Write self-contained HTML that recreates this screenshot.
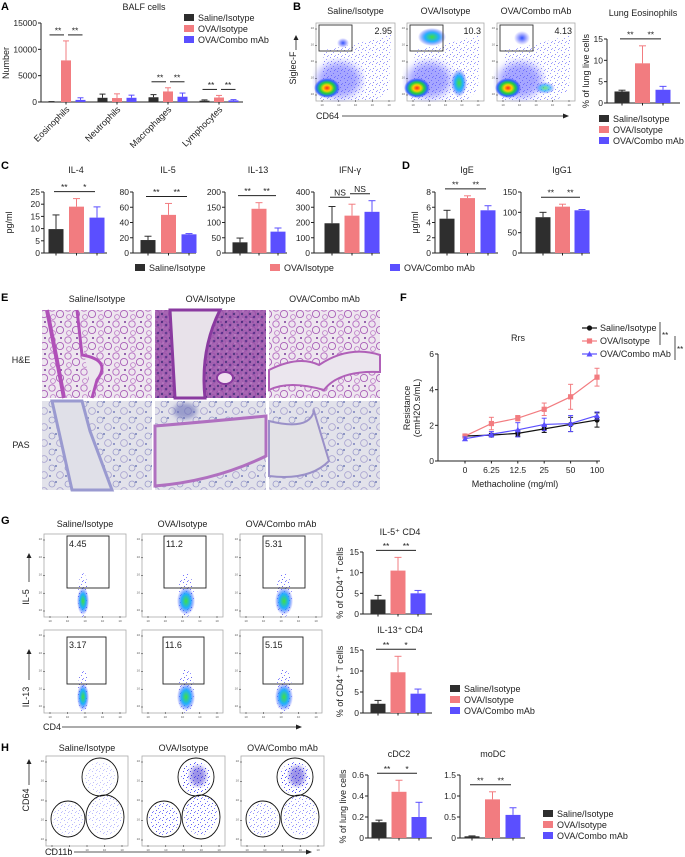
<!DOCTYPE html>
<html><head><meta charset="utf-8"><style>
html,body{margin:0;padding:0;background:#fff}
svg{display:block;font-family:"Liberation Sans",Arial,sans-serif}
</style></head><body>
<svg id="fig" width="685" height="857" viewBox="0 0 685 857" xmlns="http://www.w3.org/2000/svg">
<defs>
<filter id="blur2"><feGaussianBlur stdDeviation="2"/></filter>
<filter id="blur4"><feGaussianBlur stdDeviation="4"/></filter>
<pattern id="speck" width="7" height="7" patternUnits="userSpaceOnUse">
<rect x="1" y="1" width="1" height="1" fill="#3a3aff"/><rect x="4" y="3" width="1" height="1" fill="#5050ff"/><rect x="2" y="5" width="1" height="1" fill="#2a2ae0"/><rect x="6" y="6" width="1" height="1" fill="#6a6aff"/><rect x="5" y="0" width="1" height="1" fill="#4040ff"/>
</pattern>
<radialGradient id="hot"><stop offset="0" stop-color="#ff2020"/><stop offset="0.3" stop-color="#ffd000"/><stop offset="0.55" stop-color="#20d040"/><stop offset="0.8" stop-color="#2a6aff"/><stop offset="1" stop-color="#3030ff" stop-opacity="0"/></radialGradient>
<radialGradient id="warm"><stop offset="0" stop-color="#40e040"/><stop offset="0.5" stop-color="#20b0ff"/><stop offset="1" stop-color="#3030ff" stop-opacity="0"/></radialGradient>
<radialGradient id="cool"><stop offset="0" stop-color="#3050ff"/><stop offset="1" stop-color="#5050ff" stop-opacity="0"/></radialGradient>
<pattern id="he" width="16" height="16" patternUnits="userSpaceOnUse">
<rect width="16" height="16" fill="#eee6ef"/><circle cx="4" cy="4" r="3.2" fill="none" stroke="#b36ac0" stroke-width="0.9"/><circle cx="12" cy="10" r="3.6" fill="none" stroke="#a95fb8" stroke-width="0.9"/><circle cx="5" cy="13" r="2.4" fill="none" stroke="#bb77c6" stroke-width="0.8"/><circle cx="13" cy="2" r="1" fill="#7a3a9a"/>
</pattern>
<pattern id="heDark" width="8" height="8" patternUnits="userSpaceOnUse">
<rect width="8" height="8" fill="#9a4fa8"/><circle cx="2" cy="2" r="1.2" fill="#3a1a70"/><circle cx="6" cy="5" r="1.3" fill="#4a2080"/><circle cx="3" cy="7" r="0.8" fill="#c080c8"/>
</pattern>
<pattern id="pas" width="16" height="16" patternUnits="userSpaceOnUse">
<rect width="16" height="16" fill="#e2e2ea"/><circle cx="4" cy="4" r="3" fill="none" stroke="#9c9ccc" stroke-width="0.8"/><circle cx="12" cy="11" r="3.4" fill="none" stroke="#a6a0cf" stroke-width="0.8"/><circle cx="8" cy="2" r="0.9" fill="#5060a8"/><circle cx="2" cy="12" r="0.9" fill="#5a64b0"/>
</pattern>
</defs>
<g id="root"></g>
</svg>
<script>
// ---------- DATA ----------
const groups = ["Saline/Isotype","OVA/Isotype","OVA/Combo mAb"];
const colors = ["#2e2e2e","#f27c80","#5b4fff"];
// A BALF
const balfCats = ["Eosinophils","Neutrophils","Macrophages","Lymphocytes"];
const balfSaline = [50, 800, 900, 250];
const balfOVA = [7900, 750, 2000, 850];
const balfCombo = [400, 800, 1000, 300];
const balfSalineErr = [30, 700, 500, 150];
const balfOVAErr = [3700, 800, 700, 400];
const balfComboErr = [400, 500, 700, 150];
const balfTicks = [0, 5000, 10000, 15000];
// B
const eosVals = [2.7, 9.3, 3.1];
const eosErr = [0.3, 4.1, 0.8];
const eosTicks = [0, 5, 10, 15];
const eosPct = ["2.95","10.3","4.13"];
// C cytokines
const il4Vals = [9.8, 19, 14.5], il4Err = [5.8, 3.3, 4.4], il4Ticks = [0,5,10,15,20,25];
const il5Vals = [17, 50, 24.5], il5Err = [5, 15, 1], il5Ticks = [0,20,40,60,80];
const il13Vals = [35, 145, 70], il13Err = [14, 20, 12], il13Ticks = [0,50,100,150,200];
const ifnVals = [195, 245, 270], ifnErr = [110, 75, 73], ifnTicks = [0,100,200,300,400];
// D
const igeVals = [4.5, 7.2, 5.6], igeErr = [1.1, 0.3, 0.6], igeTicks = [0,2,4,6,8];
const igg1Vals = [88, 114, 105], igg1Err = [12, 6, 2], igg1Ticks = [0,50,100,150];
// F
const mchDoses = ["0","6.25","12.5","25","50","100"];
const rrsSaline = [1.4, 1.45, 1.55, 1.8, 2.05, 2.3];
const rrsSalineErr = [0.1, 0.1, 0.15, 0.2, 0.4, 0.4];
const rrsOVA = [1.4, 2.1, 2.4, 2.9, 3.6, 4.7];
const rrsOVAErr = [0.1, 0.35, 0.15, 0.35, 0.7, 0.5];
const rrsCombo = [1.25, 1.5, 1.75, 2.05, 2.1, 2.55];
const rrsComboErr = [0.1, 0.15, 0.4, 0.35, 0.45, 0.2];
const rrsTicks = [0, 2, 4, 6];
// G
const il5cd4Vals = [3.5, 10.5, 5], il5cd4Err = [1, 3.2, 0.7];
const il13cd4Vals = [2.2, 9.7, 4.6], il13cd4Err = [0.8, 3.8, 1.1];
const cd4Ticks = [0, 5, 10, 15];
const il5Pct = ["4.45","11.2","5.31"];
const il13Pct = ["3.17","11.6","5.15"];
// H
const cdc2Vals = [0.15, 0.44, 0.2], cdc2Err = [0.02, 0.11, 0.14], cdc2Ticks = [0,0.2,0.4,0.6];
const modcVals = [0.04, 0.92, 0.55], modcErr = [0.01, 0.18, 0.17], modcTicks = [0,0.5,1.0,1.5];

// ---------- HELPERS ----------
const NS = "http://www.w3.org/2000/svg";
const root = document.getElementById("root");
function el(tag, attrs, parent, txt){
  const e = document.createElementNS(NS, tag);
  for (const k in attrs) e.setAttribute(k, attrs[k]);
  if (txt !== undefined) e.textContent = txt;
  (parent || root).appendChild(e);
  return e;
}
function txt(x, y, s, size, anchor, parent, extra){
  const a = {x:x, y:y, "font-size":size||9, "text-anchor":anchor||"middle", fill:"#222"};
  if (extra) for (const k in extra) a[k] = extra[k];
  return el("text", a, parent, s);
}
function line(x1,y1,x2,y2,parent,w,c){ return el("line",{x1:x1,y1:y1,x2:x2,y2:y2,stroke:c||"#222","stroke-width":w||1},parent); }
function fmt(v){ return String(v); }

function barChart(name, ax, xEnd, y0, yTop, max, ticks, vals, errs, first, step, bw, title, titleX, titleY, ylabel, ylx, sigs, tickFmt){
  const g = el("g", {}, root);
  
  
  const ys = v => y0 - (v / max) * (y0 - yTop);
  line(ax, y0, ax, yTop, g);
  line(ax, y0, xEnd, y0, g);
  ticks.forEach(t => {
    line(ax-3, ys(t), ax, ys(t), g);
    const tl = txt(ax-4, ys(t)+3, tickFmt ? tickFmt(t) : fmt(t), 8.5, "end", g);
    
    
  });
  vals.forEach((v, i) => {
    const cx = first + i*step;
    line(cx, y0, cx, y0+2.5, g);
    const top = ys(v + errs[i]);
    line(cx, ys(v), cx, top, g, 1, colors[i]);
    line(cx-3.5, top, cx+3.5, top, g, 1, colors[i]);
    const r = el("rect", {x:cx-bw/2, y:ys(v), width:bw, height:y0-ys(v), fill:colors[i]}, g);
    
    
  });
  if (title){
    const t = txt(titleX, titleY, title, 9, "middle", g);
    
    
  }
  if (ylabel){
    const t = txt(ylx, (y0+yTop)/2, ylabel, 9, "middle", g, {transform:"rotate(-90 "+ylx+" "+((y0+yTop)/2)+")"});
    
    
  }
  (sigs||[]).forEach(s => {
    const a = s[0], b = s[1];
    const top = Math.min(ys(vals[a]+errs[a]), ys(vals[b]+errs[b])) - 7;
    const x1 = first + a*step, x2 = first + b*step;
    line(x1-2, top, x2-2, top, g);
    txt((x1+x2)/2 - 2, top - 1.5, s[2], 8.5, "middle", g);
  });
  return g;
}
function legend(name, x, y, dy){
  const g = el("g", {}, root);
  
  
  groups.forEach((gr, i) => {
    const it = el("g", {}, g);
    
    
    el("rect", {x:x, y:y+i*dy-6, width:10, height:7, fill:colors[i]}, it);
    txt(x+14, y+i*dy+1, gr, 9, "start", it);
  });
}
function letter(s, x, y){
  const t = txt(x, y, s, 11, "start", root, {"font-weight":"bold", fill:"#000"});
  
  
}
function flowAxes(g, x1, y1, x2, y2){
  el("rect", {x:x1, y:y1, width:x2-x1, height:y2-y1, fill:"#fff", stroke:"#aaa", "stroke-width":0.8}, g);
  for (let i=0;i<5;i++){ const yy = y2-6-i*(y2-y1-12)/4; txt(x1-2, yy, "10", 3, "end", g, {fill:"#555"}); line(x1-1,yy,x1+1,yy,g,0.6,"#444"); }
  for (let i=0;i<5;i++){ const xx = x1+6+i*(x2-x1-12)/4; txt(xx, y2+5, "10", 3, "middle", g, {fill:"#555"}); line(xx,y2-1,xx,y2+1,g,0.6,"#444"); }
}

// ---------- PANEL A ----------
letter("A", 1, 10);
(function(){
  const ax = 41, xEnd = 243, y0 = 102, yTop = 23, max = 15000;
  const g = el("g", {}, root);
  
  
  const ys = v => y0 - v/max*(y0-yTop);
  line(ax, y0, ax, yTop, g); line(ax, y0, xEnd, y0, g);
  balfTicks.forEach(t => { line(ax-3, ys(t), ax, ys(t), g); txt(ax-4, ys(t)+3, String(t), 8.5, "end", g); });
  const series = [balfSaline, balfOVA, balfCombo], errs = [balfSalineErr, balfOVAErr, balfComboErr];
  balfCats.forEach((c, ci) => {
    const gc = 66 + ci*51;
    line(gc, y0, gc, y0+2.5, g);
    series.forEach((s, si) => {
      const cx = gc + (si-1)*14.5, v = s[ci], e = errs[si][ci];
      line(cx, ys(v), cx, ys(v+e), g, 1, colors[si]);
      line(cx-3, ys(v+e), cx+3, ys(v+e), g, 1, colors[si]);
      const r = el("rect", {x:cx-5, y:ys(v), width:10, height:Math.max(0.8,y0-ys(v)), fill:colors[si]}, g);
      
      
    });
    const t = txt(gc+4, y0+8, c, 9, "end", g, {transform:"rotate(-45 "+(gc+4)+" "+(y0+8)+")"});
    
    
    if (ci !== 1){
      const tops = series.map((s, si) => ys(s[ci] + errs[si][ci]));
      const top = Math.min(tops[0], tops[1], tops[2]) - 6;
      line(gc-14.5-2, top, gc-2, top, g); txt(gc-8, top-1.5, "**", 8.5, "middle", g);
      line(gc+2, top, gc+14.5+2, top, g); txt(gc+9, top-1.5, "**", 8.5, "middle", g);
    }
  });
  txt(144, 10, "BALF cells", 9, "middle", g);
  txt(9, 63, "Number", 9, "middle", g, {transform:"rotate(-90 9 63)"});
})();
legend("balf-legend", 184, 20, 11);

// ---------- PANEL B ----------
letter("B", 293, 10);
(function(){
  const g = el("g", {}, root);
  
  
  const cols = [[316,395],[407,484],[497,575]];
  const hot = [[327,88],[417,88],[508,88]];
  const eos = [[343,43,6,5,"cool"],[432,37,14,9,"warm"],[522,38,8,7,"cool"]];
  cols.forEach((c, i) => {
    const gg = el("g", {}, g);
    
    
    txt((c[0]+c[1])/2, 14, groups[i], 9, "middle", gg);
    flowAxes(gg, c[0], 23, c[1], 101);
    el("path", {d:"M"+(c[0]+4)+" 100 L"+(c[0]+8)+" 50 L"+(c[0]+35)+" 45 L"+(c[1]-4)+" 35 L"+(c[1]-6)+" 90 L"+(c[0]+60)+" 100 Z", fill:"url(#speck)", opacity:0.55}, gg);
    el("ellipse", {cx:hot[i][0]+12, cy:80, rx:22, ry:18, fill:"#3a3aff", opacity:0.45, filter:"url(#blur4)"}, gg);
    el("ellipse", {cx:hot[i][0], cy:hot[i][1], rx:13, ry:10, fill:"url(#hot)"}, gg);
    el("ellipse", {cx:eos[i][0], cy:eos[i][1], rx:eos[i][2], ry:eos[i][3], fill:"url(#"+eos[i][4]+")"}, gg);
    if (i === 1) el("ellipse", {cx:459, cy:83, rx:8, ry:14, fill:"url(#warm)"}, gg);
    if (i === 2) el("ellipse", {cx:545, cy:88, rx:10, ry:6, fill:"url(#warm)", opacity:0.7}, gg);
    const gx = c[0]+3;
    el("rect", {x:gx, y:25, width:33, height:26, fill:"none", stroke:"#333", "stroke-width":0.9}, gg);
    txt(c[1]-3, 34, eosPct[i], 9, "end", gg);
  });
  txt(296, 68, "Siglec-F", 9, "middle", g, {transform:"rotate(-90 296 68)"});
  line(296, 50, 296, 38, g, 0.8); el("path",{d:"M293.5 40 L296 35 L298.5 40 Z",fill:"#222"},g);
  txt(316, 119, "CD64", 9, "start", g);
  line(342, 116, 565, 116, g, 0.8); el("path",{d:"M563 113.5 L569 116 L563 118.5 Z",fill:"#222"},g);
})();
barChart("lung-eosinophils-chart", 607, 680, 103, 39, 15, eosTicks, eosVals, eosErr, 622, 20.5, 15, "Lung Eosinophils", 643, 16, "% of lung live cells", 589, [[0,1,"**"],[1,2,"**"]]);
legend("eosinophil-legend", 599, 121, 11);

// ---------- PANEL C ----------
letter("C", 1, 169);
barChart("il4-chart", 44, 107, 253, 192, 25, il4Ticks, il4Vals, il4Err, 56, 20.5, 15, "IL-4", 76, 173, "pg/ml", 12, [[0,1,"**"],[1,2,"*"]]);
barChart("il5-chart", 133, 196, 253, 192, 80, il5Ticks, il5Vals, il5Err, 148, 20.5, 15, "IL-5", 168, 173, null, 0, [[0,1,"**"],[1,2,"**"]]);
barChart("il13-chart", 225, 287, 253, 192, 200, il13Ticks, il13Vals, il13Err, 240, 19, 15, "IL-13", 258, 173, null, 0, [[0,1,"**"],[1,2,"**"]]);
barChart("ifng-chart", 314, 380, 253, 192, 400, ifnTicks, ifnVals, ifnErr, 332, 20, 15, "IFN-γ", 350, 173, null, 0, [[0,1,"NS"],[1,2,"NS"]]);
(function(){
  const g = el("g", {}, root);
  
  
  const xs = [135, 270, 390];
  groups.forEach((gr, i) => {
    const it = el("g", {}, g);
    
    
    el("rect", {x:xs[i], y:264, width:10, height:7, fill:colors[i]}, it);
    txt(xs[i]+14, 271, gr, 9, "start", it);
  });
})();
// ---------- PANEL D ----------
letter("D", 402, 169);
barChart("ige-chart", 435, 498, 253, 192, 8, igeTicks, igeVals, igeErr, 447, 20.5, 15, "IgE", 467, 173, "μg/ml", 418, [[0,1,"**"],[1,2,"**"]]);
barChart("igg1-chart", 521, 590, 253, 192, 150, igg1Ticks, igg1Vals, igg1Err, 543, 19.5, 15, "IgG1", 562, 173, null, 0, [[0,1,"**"],[1,2,"**"]]);

// ---------- PANEL E ----------
letter("E", 1, 301);
(function(){
  const g = el("g", {}, root);
  
  
  const cols = [[42,152],[155,266],[269,380]];
  cols.forEach((c, i) => txt((c[0]+c[1])/2, 302, groups[i], 9, "middle", g));
  txt(21, 363, "H&E", 9, "middle", g);
  txt(21, 448, "PAS", 9, "middle", g);
  const rows = [[310,398],[401,490]];
  rows.forEach((r, ri) => cols.forEach((c, ci) => {
    const w = c[1]-c[0], h = r[1]-r[0];
    const cg = el("g", {}, g);
    
    
    el("rect", {x:c[0], y:r[0], width:w, height:h, fill: ri===0 ? "url(#he)" : "url(#pas)"}, cg);
    if (ri === 0){
      if (ci === 0){
        el("path",{d:`M${c[0]+5} ${r[0]} Q${c[0]+15} ${r[0]+50} ${c[0]+22} ${r[1]}`,fill:"none",stroke:"#b050b8","stroke-width":4},cg);
        el("path",{d:`M${c[0]+35} ${r[0]} L${c[0]+40} ${r[0]+45} Q${c[0]+70} ${r[0]+50} ${c[0]+55} ${r[0]+70} L${c[0]+50} ${r[1]}`,fill:"#ece6ee",stroke:"#b050b8","stroke-width":3},cg);
      } else if (ci === 1){
        el("rect",{x:c[0],y:r[0],width:w,height:h,fill:"url(#heDark)",opacity:0.85},cg);
        el("path",{d:`M${c[0]+15} ${r[0]} L${c[0]+65} ${r[0]} Q${c[0]+45} ${r[0]+40} ${c[0]+50} ${r[1]} L${c[0]+20} ${r[1]} Z`,fill:"#e8e2ea",stroke:"#8a3aa0","stroke-width":3},cg);
        el("ellipse",{cx:c[0]+70,cy:r[0]+68,rx:8,ry:6,fill:"#f0e0f0",stroke:"#8a3aa0","stroke-width":2},cg);
      } else {
        el("path",{d:`M${c[0]} ${r[0]+60} Q${c[0]+30} ${r[0]+45} ${c[0]+50} ${r[0]+55} Q${c[0]+80} ${r[0]+35} ${c[1]} ${r[0]+45} L${c[1]} ${r[0]+62} Q${c[0]+70} ${r[0]+60} ${c[0]+55} ${r[0]+80} Q${c[0]+20} ${r[0]+70} ${c[0]} ${r[0]+80} Z`,fill:"#ebe6ee",stroke:"#b060b8","stroke-width":2},cg);
      }
    } else {
      if (ci === 0){
        el("path",{d:`M${c[0]+10} ${r[0]} L${c[0]+30} ${r[1]} L${c[0]+70} ${r[1]} L${c[0]+48} ${r[0]+30} L${c[0]+40} ${r[0]} Z`,fill:"#e0e0e8",stroke:"#9a9ad0","stroke-width":3},cg);
      } else if (ci === 1){
        el("path",{d:`M${c[0]} ${r[0]+25} Q${c[0]+60} ${r[0]+20} ${c[1]} ${r[0]+15} L${c[1]} ${r[0]+55} Q${c[0]+60} ${r[0]+80} ${c[0]} ${r[0]+85} Z`,fill:"#e0dfe4",stroke:"#b070c0","stroke-width":3},cg);
        el("ellipse",{cx:c[0]+30,cy:r[0]+10,rx:12,ry:8,fill:"#6a70b8",opacity:0.6,filter:"url(#blur2)"},cg);
      } else {
        el("path",{d:`M${c[0]} ${r[0]+20} Q${c[0]+40} ${r[0]+30} ${c[0]+45} ${r[0]+10} L${c[0]+60} ${r[0]+60} Q${c[0]+40} ${r[0]+80} ${c[0]} ${r[0]+75} Z`,fill:"#e2e1e6",stroke:"#9a90c8","stroke-width":2},cg);
      }
    }
  }));
})();

// ---------- PANEL F ----------
letter("F", 400, 301);
(function(){
  const g = el("g", {}, root);
  
  
  const ax = 438, y0 = 461, yTop = 354, max = 6;
  const ys = v => y0 - v/max*(y0-yTop);
  const xs = i => 465 + i*(597-465)/(mchDoses.length-1);
  line(ax, y0, ax, yTop, g); line(ax, y0, 600, y0, g);
  rrsTicks.forEach(t => { line(ax-3, ys(t), ax, ys(t), g); txt(ax-4, ys(t)+3, String(t), 8.5, "end", g); });
  mchDoses.forEach((d, i) => { line(xs(i), y0, xs(i), y0+2.5, g); txt(xs(i), y0+12, d, 8.5, "middle", g); });
  txt(515, 487, "Methacholine (mg/ml)", 9, "middle", g);
  txt(518, 341, "Rrs", 9, "middle", g);
  txt(410, 408, "Resistance", 9, "middle", g, {transform:"rotate(-90 410 408)"});
  txt(420, 408, "(cmH2O.s/mL)", 9, "middle", g, {transform:"rotate(-90 420 408)"});
  const ser = [[rrsSaline, rrsSalineErr, "#111", "circle"], [rrsOVA, rrsOVAErr, "#f27c80", "square"], [rrsCombo, rrsComboErr, "#5b4fff", "tri"]];
  function marker(shape, x, y, c, p){
    if (shape === "circle") return el("circle", {cx:x, cy:y, r:2.6, fill:c}, p);
    if (shape === "square") return el("rect", {x:x-2.6, y:y-2.6, width:5.2, height:5.2, fill:c}, p);
    return el("path", {d:`M${x} ${y-3} L${x+3} ${y+2.5} L${x-3} ${y+2.5} Z`, fill:c}, p);
  }
  ser.forEach((s, si) => {
    const sg = el("g", {}, g);
    
    
    el("polyline", {points: s[0].map((v,i)=>xs(i)+","+ys(v)).join(" "), fill:"none", stroke:s[2], "stroke-width":1.2}, sg);
    s[0].forEach((v, i) => {
      line(xs(i), ys(v-s[1][i]), xs(i), ys(v+s[1][i]), sg, 1, s[2]);
      line(xs(i)-2.5, ys(v+s[1][i]), xs(i)+2.5, ys(v+s[1][i]), sg, 1, s[2]);
      line(xs(i)-2.5, ys(v-s[1][i]), xs(i)+2.5, ys(v-s[1][i]), sg, 1, s[2]);
      const m = marker(s[3], xs(i), ys(v), s[2], sg);
      
      
    });
    const ly = 328 + si*13;
    line(582, ly, 597, ly, sg, 1.2, s[2]);
    marker(s[3], 589.5, ly, s[2], sg);
    txt(600, ly+3, groups[si], 9, "start", sg);
  });
  line(660, 322, 660, 345, g, 0.8); txt(662, 338, "**", 8, "start", g);
  line(675, 336, 675, 360, g, 0.8); txt(677, 352, "**", 8, "start", g);
})();

// ---------- PANEL G ----------
letter("G", 1, 524);
(function(){
  const g = el("g", {}, root);
  
  
  const cols = [[44,126],[142,223],[240,322]];
  const rows = [[534,617],[630,713]];
  const gates = [[[67,109],[164,206],[263,305]],[[67,106],[163,204],[263,303]]];
  const gy = [[536,588],[637,684]];
  const clusterX = [83, 186, 284];
  cols.forEach((c,i) => txt((c[0]+c[1])/2, 527, groups[i], 9, "middle", g));
  rows.forEach((r, ri) => cols.forEach((c, ci) => {
    const pg = el("g", {}, g);
    
    
    flowAxes(pg, c[0], r[0], c[1], r[1]);
    const cy = gy[ri][1] + 13, spread = ci===0 ? 5 : 8;
    el("ellipse", {cx:clusterX[ci], cy:cy-6, rx:spread, ry:22, fill:"url(#speck)", opacity:0.7}, pg);
    el("ellipse", {cx:clusterX[ci], cy:cy, rx:spread+1, ry:14, fill:"url(#warm)"}, pg);
    const gt = gates[ri][ci];
    el("rect", {x:gt[0], y:gy[ri][0], width:gt[1]-gt[0], height:gy[ri][1]-gy[ri][0], fill:"none", stroke:"#222", "stroke-width":0.9}, pg);
    txt(gt[0]+2, gy[ri][0]+11, (ri===0?il5Pct:il13Pct)[ci], 9, "start", pg);
  }));
  txt(29, 597, "IL-5", 9, "middle", g, {transform:"rotate(-90 29 597)"});
  line(29, 582, 29, 556, g, 0.8); el("path",{d:"M26.5 558 L29 553 L31.5 558 Z",fill:"#222"},g);
  txt(29, 697, "IL-13", 9, "middle", g, {transform:"rotate(-90 29 697)"});
  line(29, 680, 29, 652, g, 0.8); el("path",{d:"M26.5 654 L29 649 L31.5 654 Z",fill:"#222"},g);
  txt(43, 730, "CD4", 9, "start", g);
  line(62, 727, 298, 727, g, 0.8); el("path",{d:"M296 724.5 L302 727 L296 729.5 Z",fill:"#222"},g);
})();
barChart("il5-cd4-chart", 363, 432, 614, 552, 15, cd4Ticks, il5cd4Vals, il5cd4Err, 378, 20, 15, "IL-5⁺ CD4", 400, 535, "% of CD4⁺ T cells", 343, [[0,1,"**"],[1,2,"**"]]);
barChart("il13-cd4-chart", 363, 432, 713, 650, 15, cd4Ticks, il13cd4Vals, il13cd4Err, 378, 20, 15, "IL-13⁺ CD4", 400, 633, "% of CD4⁺ T cells", 343, [[0,1,"**"],[1,2,"*"]]);
legend("cd4-legend", 450, 691, 11);

// ---------- PANEL H ----------
letter("H", 1, 751);
(function(){
  const g = el("g", {}, root);
  
  
  const cols = [[46,128],[142,225],[241,324]];
  const dens = [0.35, 0.75, 0.55];
  cols.forEach((c, i) => {
    const pg = el("g", {}, g);
    
    
    txt((c[0]+c[1])/2, 751, groups[i], 9, "middle", pg);
    flowAxes(pg, c[0], 756, c[1], 846);
    const o = c[0] - 46;
    el("ellipse", {cx:68+o, cy:819, rx:15, ry:16, fill:"url(#speck)", opacity:dens[i]}, pg);
    el("ellipse", {cx:105+o, cy:815, rx:17, ry:20, fill:"url(#speck)", opacity:dens[i]}, pg);
    el("ellipse", {cx:100+o, cy:778, rx:15, ry:16, fill:"url(#speck)", opacity:i===0?0.3:0.9}, pg);
    if (i>0) el("ellipse", {cx:102+o, cy:776, rx:8, ry:10, fill:"#3a2ad0", opacity:0.5, filter:"url(#blur2)"}, pg);
    el("ellipse", {cx:100+o, cy:777, rx:18, ry:19, fill:"none", stroke:"#111", "stroke-width":0.9}, pg);
    el("ellipse", {cx:68+o, cy:819, rx:17, ry:18, fill:"none", stroke:"#111", "stroke-width":0.9}, pg);
    el("ellipse", {cx:105+o, cy:817, rx:19, ry:22, fill:"none", stroke:"#111", "stroke-width":0.9}, pg);
  });
  txt(29, 800, "CD64", 9, "middle", g, {transform:"rotate(-90 29 800)"});
  line(29, 785, 29, 762, g, 0.8); el("path",{d:"M26.5 764 L29 759 L31.5 764 Z",fill:"#222"},g);
  txt(45, 855, "CD11b", 9, "start", g);
  line(74, 852, 308, 852, g, 0.8); el("path",{d:"M306 849.5 L312 852 L306 854.5 Z",fill:"#222"},g);
})();
barChart("cdc2-chart", 368, 432, 838, 775, 0.6, cdc2Ticks, cdc2Vals, cdc2Err, 379, 20, 15, "cDC2", 399, 757, "% of lung live cells", 346, [[0,1,"**"],[1,2,"*"]], t => t===0?"0":t.toFixed(1));
barChart("modc-chart", 460, 525, 838, 775, 1.5, modcTicks, modcVals, modcErr, 472, 20.5, 15, "moDC", 493, 757, null, 0, [[0,1,"**"],[1,2,"**"]], t => t===0?"0":t.toFixed(1));
legend("dc-legend", 543, 816, 11);
</script>
</body></html>
